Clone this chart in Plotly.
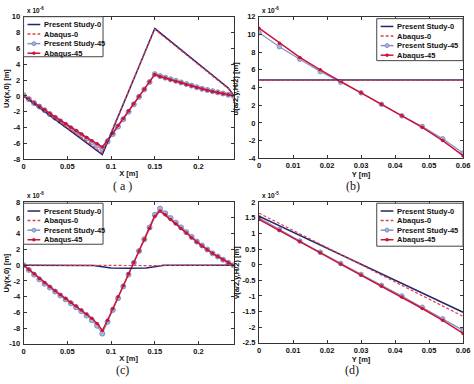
import plotly.graph_objects as go

W, H = 474, 384

# ---------------- data (values in units of the axis multiplier) ----------------
# Panel (a): Ux(x,0) x1e-6
xa_line = [0.0, 0.09, 0.15, 0.234, 0.24]
a_ps0 = [0.0, -7.4, 8.5, 1.0, 0.1]
a_ab0 = [0.0, -7.2, 8.4, 0.9, 0.05]
xa_pts = [round(i * 0.006, 3) for i in range(41)]
a_ps45 = [0.1, -0.4, -0.9, -1.35, -1.8, -2.3, -2.75, -3.2, -3.65, -4.1, -4.5,
          -4.95, -5.4, -5.85, -6.25, -6.7, -5.76, -4.82, -3.88, -2.94, -2.0,
          -1.06, -0.12, 0.82, 1.76, 2.75, 2.5, 2.3, 2.1, 1.9, 1.7, 1.5, 1.3,
          1.1, 0.9, 0.75, 0.6, 0.45, 0.3, 0.15, 0.02]
a_ab45 = [0.0, -0.4, -0.85, -1.3, -1.75, -2.2, -2.65, -3.1, -3.5, -3.95, -4.4,
          -4.8, -5.25, -5.65, -6.05, -6.45, -5.6, -4.7, -3.75, -2.85, -1.9,
          -1.0, -0.05, 0.85, 1.8, 2.7, 2.45, 2.25, 2.05, 1.85, 1.65, 1.45, 1.25,
          1.05, 0.88, 0.72, 0.57, 0.42, 0.28, 0.14, 0.02]

# Panel (b): u(a/2,y,H/2) x1e-6
yb_line = [0.0, 0.06]
b_ps0 = [4.85, 4.85]
b_ab0 = [4.8, 4.8]
yb_pts = [0.0, 0.006, 0.012, 0.018, 0.024, 0.03, 0.036, 0.042, 0.048, 0.054, 0.06]
b_ps45 = [10.2, 8.6, 7.2, 5.8, 4.6, 3.4, 2.1, 0.8, -0.4, -1.8, -3.4]
b_ab45 = [10.7, 9.0, 7.4, 6.0, 4.7, 3.4, 2.1, 0.8, -0.5, -2.0, -3.7]

# Panel (c): Uy(x,0) x1e-6
xc_ps0 = [0.0, 0.06, 0.08, 0.09, 0.1, 0.12, 0.14, 0.15, 0.16, 0.24]
c_ps0 = [0.0, 0.0, -0.05, -0.2, -0.35, -0.4, -0.35, -0.2, -0.02, 0.0]
xc_ab0 = [0.0, 0.09, 0.12, 0.15, 0.24]
c_ab0 = [0.0, -0.05, -0.1, -0.05, 0.0]
xc_pts = [round(i * 0.006, 3) for i in range(41)]
c_ps45 = [0.0, -0.6, -1.2, -1.8, -2.35, -2.85, -3.35, -3.85, -4.35, -4.85, -5.35,
          -5.85, -6.4, -7.0, -7.7, -8.7, -7.2, -5.7, -4.2, -2.7, -1.2, 0.3, 1.8,
          3.3, 4.8, 6.4, 7.2, 6.6, 6.0, 5.4, 4.8, 4.2, 3.6, 3.0, 2.5, 2.0, 1.5,
          1.1, 0.7, 0.3, 0.0]
c_ab45 = [0.0, -0.55, -1.1, -1.7, -2.25, -2.75, -3.25, -3.75, -4.25, -4.7, -5.2,
          -5.7, -6.2, -6.75, -7.4, -8.3, -7.0, -5.5, -4.0, -2.6, -1.1, 0.35, 1.8,
          3.25, 4.7, 6.2, 6.9, 6.4, 5.8, 5.25, 4.65, 4.1, 3.5, 2.95, 2.45, 1.95,
          1.5, 1.1, 0.7, 0.3, 0.0]

# Panel (d): v(a/2,y,H/2) x1e-5
yd_line = [0.0, 0.06]
d_ps0 = [1.55, -1.52]
d_ab0 = [1.65, -1.65]
yd_pts = [0.0, 0.006, 0.012, 0.018, 0.024, 0.03, 0.036, 0.042, 0.048, 0.054, 0.06]
d_ps45 = [1.5, 1.12, 0.76, 0.4, 0.04, -0.31, -0.66, -1.0, -1.36, -1.73, -2.1]
d_ab45 = [1.45, 1.1, 0.74, 0.38, 0.02, -0.33, -0.68, -1.03, -1.4, -1.78, -2.2]

names = ["Present Study-0", "Abaqus-0", "Present Study-45", "Abaqus-45"]
captions = ["( a )", "(b)", "(c)", "(d)"]
xtitles = ["X [m]", "Y [m]", "X [m]", "Y [m]"]
ytitles = ["Ux(x,0) [m]", "u(a/2,y,H/2) [m]", "Uy(x,0) [m]", "v(a/2,y,H/2) [m]"]
multipliers = ["x 10<sup>-6</sup>", "x 10<sup>-6</sup>", "x 10<sup>-6</sup>", "x 10<sup>-5</sup>"]

# ---------------- styling ----------------
C_PS0 = "#26246e"
C_AB0 = "#e0404c"
C_PS45 = "#8090c4"
C_AB45 = "#cc1236"
FONT = "Liberation Sans, Arial, sans-serif"

def px(x):
    return x / W

def py(y):
    return 1 - y / H

# panel boxes in pixels: (left, right, top, bottom)
boxes = [(22, 236, 13, 159), (262, 470, 13, 158), (22, 236, 203, 348), (262, 470, 203, 347)]

fig = go.Figure()

panels = [
    (xa_line, a_ps0, xa_line, a_ab0, xa_pts, a_ps45, a_ab45),
    (yb_line, b_ps0, yb_line, b_ab0, yb_pts, b_ps45, b_ab45),
    (xc_ps0, c_ps0, xc_ab0, c_ab0, xc_pts, c_ps45, c_ab45),
    (yd_line, d_ps0, yd_line, d_ab0, yd_pts, d_ps45, d_ab45),
]

for i, (x0, y0, x1, y1, xp, yps, yab) in enumerate(panels):
    sfx = "" if i == 0 else str(i + 1)
    xa, ya = "x" + sfx, "y" + sfx
    dense = i in (0, 2)
    fig.add_trace(go.Scatter(x=xp, y=yps, mode="lines+markers", name=names[2],
                             line=dict(color=C_PS45, width=1.2),
                             marker=dict(symbol="circle", size=5 if dense else 4.5,
                                         color="#a9b4dc", line=dict(color=C_PS45, width=1)),
                             xaxis=xa, yaxis=ya, showlegend=False))
    fig.add_trace(go.Scatter(x=xp, y=yab, mode="lines+markers", name=names[3],
                             line=dict(color=C_AB45, width=1.5),
                             marker=dict(symbol="circle", size=3.5, color=C_AB45),
                             xaxis=xa, yaxis=ya, showlegend=False))
    fig.add_trace(go.Scatter(x=x0, y=y0, mode="lines", name=names[0],
                             line=dict(color=C_PS0, width=1.5),
                             xaxis=xa, yaxis=ya, showlegend=False))
    fig.add_trace(go.Scatter(x=x1, y=y1, mode="lines", name=names[1],
                             line=dict(color=C_AB0, width=1.2, dash="3px,2px"),
                             xaxis=xa, yaxis=ya, showlegend=False))

xranges = [[0, 0.24], [0, 0.06], [0, 0.24], [0, 0.06]]
yranges = [[-8, 10], [-4, 12], [-10, 8], [-2.5, 2]]
xtickvals = [[0, 0.05, 0.1, 0.15, 0.2], [0, 0.01, 0.02, 0.03, 0.04, 0.05, 0.06]] * 2
xticktext = [["0", "0.05", "0.1", "0.15", "0.2"], ["0", "0.01", "0.02", "0.03", "0.04", "0.05", "0.06"]] * 2
ytickvals = [list(range(-8, 11, 2)), list(range(-4, 13, 2)), list(range(-10, 9, 2)),
             [-2.5, -2, -1.5, -1, -0.5, 0, 0.5, 1, 1.5, 2]]
yticktext = [[str(v) for v in ytickvals[0]], [str(v) for v in ytickvals[1]],
             [str(v) for v in ytickvals[2]],
             ["-2.5", "-2", "-1.5", "-1", "-0.5", "0", "0.5", "1", "1.5", "2"]]

tickfont = dict(family=FONT, size=7.5, color="#111", weight="bold")
layout = {}
for i, (l, r, t, b) in enumerate(boxes):
    sfx = "" if i == 0 else str(i + 1)
    layout["xaxis" + sfx] = dict(
        domain=[px(l), px(r)], range=xranges[i], anchor="y" + sfx,
        tickvals=xtickvals[i], ticktext=xticktext[i], tickfont=tickfont,
        ticklabeloverflow="allow",
        ticks="inside", ticklen=3, tickcolor="#333", mirror="ticks",
        showline=True, linecolor="#333", linewidth=1, showgrid=False, zeroline=False,
        title=dict(text=xtitles[i], font=tickfont, standoff=0))
    layout["yaxis" + sfx] = dict(
        domain=[py(b), py(t)], range=yranges[i], anchor="x" + sfx,
        tickvals=ytickvals[i], ticktext=yticktext[i], tickfont=tickfont,
        ticklabeloverflow="allow", ticklabelstandoff=1,
        ticks="inside", ticklen=3, tickcolor="#333", mirror="ticks",
        showline=True, linecolor="#333", linewidth=1, showgrid=False, zeroline=False)

# ---------------- custom compact legends ----------------
shapes = []
annotations = []
legend_boxes = [(22, 103, 13, 54), (382, 470, 15, 58), (22, 103, 204, 246), (382, 470, 204, 248)]
legend_font = dict(family=FONT, size=7.5, color="#111", weight="bold")
for (l, r, t, b) in legend_boxes:
    shapes.append(dict(type="rect", xref="paper", yref="paper", x0=px(l), x1=px(r),
                       y0=py(b), y1=py(t), line=dict(color="#444", width=1),
                       fillcolor="white", layer="above"))
    rows = [t + 8 + k * 9.8 for k in range(4)]
    styles = [(C_PS0, "solid", None), (C_AB0, "3px,2px", None), (C_PS45, "solid", "o"), (C_AB45, "solid", ".")]
    for k, cy in enumerate(rows):
        col, dash, mk = styles[k]
        shapes.append(dict(type="line", xref="paper", yref="paper", x0=px(l + 4), x1=px(l + 17),
                           y0=py(cy), y1=py(cy), line=dict(color=col, width=1.5, dash=dash),
                           layer="above"))
        if mk == "o":
            shapes.append(dict(type="circle", xref="paper", yref="paper",
                               x0=px(l + 8.5), x1=px(l + 12.5), y0=py(cy + 2), y1=py(cy - 2),
                               line=dict(color=C_PS45, width=1), fillcolor="#a9b4dc", layer="above"))
        elif mk == ".":
            shapes.append(dict(type="circle", xref="paper", yref="paper",
                               x0=px(l + 9), x1=px(l + 12), y0=py(cy + 1.5), y1=py(cy - 1.5),
                               line=dict(color=C_AB45, width=0.5), fillcolor=C_AB45, layer="above"))
        annotations.append(dict(text=names[k], xref="paper", yref="paper", x=px(l + 19), y=py(cy),
                                xanchor="left", yanchor="middle", showarrow=False, font=legend_font))

# y-axis titles as rotated annotations
ytitle_pos = [(5, 86), (239, 86), (5, 275), (239, 275)]
for i, (tx, ty) in enumerate(ytitle_pos):
    annotations.append(dict(text=ytitles[i], xref="paper", yref="paper", x=px(tx), y=py(ty),
                            xanchor="center", yanchor="middle", textangle=-90, showarrow=False,
                            font=tickfont))

# multipliers and captions
mult_pos = [(23, 6), (263, 6), (23, 196), (263, 196)]
for i, (mx, my) in enumerate(mult_pos):
    annotations.append(dict(text=multipliers[i], xref="paper", yref="paper", x=px(mx), y=py(my),
                            xanchor="left", yanchor="middle", showarrow=False,
                            font=dict(family=FONT, size=6.5, color="#111", weight="bold")))
cap_pos = [(123, 186), (358, 186), (123, 375), (357, 375)]
for i, (cx, cy) in enumerate(cap_pos):
    annotations.append(dict(text=captions[i], xref="paper", yref="paper", x=px(cx), y=py(cy),
                            xanchor="center", yanchor="middle", showarrow=False,
                            font=dict(family="Liberation Serif, Times New Roman, serif", size=12, color="#111")))

fig.update_layout(width=W, height=H, margin=dict(l=0, r=0, t=0, b=0),
                  paper_bgcolor="white", plot_bgcolor="white", showlegend=False,
                  hovermode=False, shapes=shapes, annotations=annotations, **layout)

fig.write_html("out.html", config={"displayModeBar": False},
               post_script="document.body.style.margin='0';document.body.style.overflow='hidden';")
